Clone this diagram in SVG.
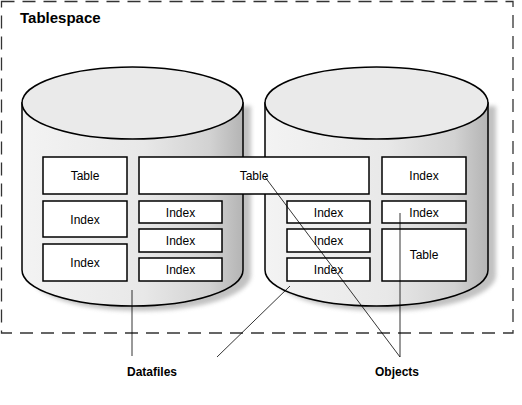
<svg xmlns="http://www.w3.org/2000/svg" width="522" height="405" viewBox="0 0 522 405">
<defs>
<linearGradient id="body" x1="0" y1="0" x2="1" y2="0">
<stop offset="0" stop-color="#f3f3f3"/>
<stop offset="0.55" stop-color="#e8e8e8"/>
<stop offset="0.85" stop-color="#d2d2d2"/>
<stop offset="1" stop-color="#b4b4b4"/>
</linearGradient>
<filter id="blur" x="-10%" y="-10%" width="120%" height="120%"><feGaussianBlur stdDeviation="2"/></filter>
</defs>
<style>
.frame{fill:none;stroke:#333;stroke-width:1.3;stroke-dasharray:13 8}
.body{fill:url(#body);stroke:#000;stroke-width:1.5}
.top{fill:#eaeaea;stroke:#000;stroke-width:1.5}
.shadow{fill:#999;opacity:0.6;filter:url(#blur)}
.box{fill:#fff;stroke:#000;stroke-width:1.5}
.lbl{font-family:"Liberation Sans",Arial,sans-serif;font-size:12px;fill:#000;text-anchor:middle}
.title{font-family:"Liberation Sans",Arial,sans-serif;font-size:15px;font-weight:bold;fill:#000}
.cap{font-family:"Liberation Sans",Arial,sans-serif;font-size:12px;font-weight:bold;fill:#000;text-anchor:middle}
.conn{fill:none;stroke:#000;stroke-width:0.8}
</style>
<rect class="frame" x="1.5" y="1.5" width="511.5" height="331.5"/>
<text class="title" x="20" y="23">Tablespace</text>
<g id="datafile1">
<path class="shadow" d="M27,103 V272 A110.5,36 0 0 0 248,272 V103 Z" transform="translate(3,3)"/>
<path class="body" d="M22,103 V270 A110.5,36 0 0 0 243,270 V103 Z"/>
<ellipse class="top" cx="132.5" cy="103" rx="110.5" ry="36"/>
</g>
<g id="datafile2">
<path class="shadow" d="M270,103 V272 A111.5,36 0 0 0 493,272 V103 Z" transform="translate(3,3)"/>
<path class="body" d="M265,103 V270 A111.5,36 0 0 0 488,270 V103 Z"/>
<ellipse class="top" cx="376.5" cy="103" rx="111.5" ry="36"/>
</g>
<g id="table1"><rect class="box" x="43" y="157" width="84" height="37"/><text class="lbl" x="85" y="180">Table</text></g>
<g id="index1"><rect class="box" x="43" y="201" width="84" height="36"/><text class="lbl" x="85" y="223.5">Index</text></g>
<g id="index2"><rect class="box" x="43" y="244" width="84" height="37"/><text class="lbl" x="85" y="267">Index</text></g>
<g id="table2"><rect class="box" x="139" y="157" width="230" height="37"/><text class="lbl" x="254" y="180">Table</text></g>
<g id="index3"><rect class="box" x="139" y="201" width="83" height="22"/><text class="lbl" x="180.5" y="216.5">Index</text></g>
<g id="index4"><rect class="box" x="139" y="229" width="83" height="23"/><text class="lbl" x="180.5" y="245">Index</text></g>
<g id="index5"><rect class="box" x="139" y="258" width="83" height="23"/><text class="lbl" x="180.5" y="274">Index</text></g>
<g id="index6"><rect class="box" x="287" y="201" width="83" height="22"/><text class="lbl" x="328.5" y="216.5">Index</text></g>
<g id="index7"><rect class="box" x="287" y="229" width="83" height="23"/><text class="lbl" x="328.5" y="245">Index</text></g>
<g id="index8"><rect class="box" x="287" y="258" width="83" height="23"/><text class="lbl" x="328.5" y="274">Index</text></g>
<g id="index9"><rect class="box" x="382" y="157" width="84" height="37"/><text class="lbl" x="424" y="180">Index</text></g>
<g id="index10"><rect class="box" x="382" y="201" width="84" height="22"/><text class="lbl" x="424" y="216.5">Index</text></g>
<g id="table3"><rect class="box" x="382" y="229" width="84" height="52"/><text class="lbl" x="424" y="258.5">Table</text></g>
<g id="connectors">
<line class="conn" x1="132" y1="290" x2="132" y2="356"/>
<line class="conn" x1="217" y1="357" x2="290" y2="286"/>
<line class="conn" x1="265" y1="177" x2="400" y2="357"/>
<line class="conn" x1="400" y1="213" x2="400" y2="357"/>
</g>
<text class="cap" x="152" y="376">Datafiles</text>
<text class="cap" x="397" y="376">Objects</text>
</svg>
